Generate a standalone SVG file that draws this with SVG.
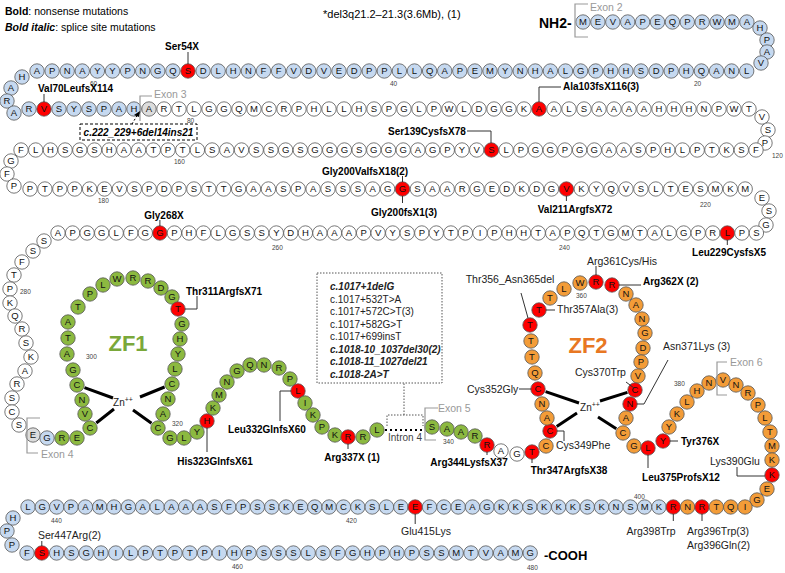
<svg xmlns="http://www.w3.org/2000/svg" width="785" height="573" viewBox="0 0 785 573">
<style>
circle{stroke:#555;stroke-width:0.8}
.b circle{fill:#c6d9f0}.w circle{fill:#fff}.g circle{fill:#8cb940}.o circle{fill:#f39c38}
circle.r{fill:#f00}circle.y{fill:#dcdcdc}circle.bl{fill:#c6d9f0}circle.gr{fill:#8cb940}circle.wh{fill:#fff}circle.or{fill:#f39c38}
text{font-family:"Liberation Sans",Arial,sans-serif}
.aa{font-size:9.5px;text-anchor:middle;fill:#111}
.lb{font-size:10px;font-weight:bold}
.lr{font-size:10.5px;fill:#222}
.num{font-size:6.5px;fill:#444}
.ex{font-size:10.5px;fill:#999}
.ln{stroke:#333;stroke-width:1;fill:none}
.zn{stroke:#000;stroke-width:3}
.br{stroke:#999;stroke-width:1.2;fill:none}
</style>
<g id="legend">
<text x="5" y="15" style="font-size:10.5px"><tspan font-weight="bold">Bold</tspan>: nonsense mutations</text>
<text x="5" y="31" style="font-size:10.5px"><tspan font-weight="bold" font-style="italic">Bold italic</tspan>: splice site mutations</text>
<text x="323" y="18" style="font-size:11px">*del3q21.2–21.3(3.6Mb), (1)</text>
</g>
<g id="row0" class="b">
<text x="539" y="28" style="font-size:14px;font-weight:bold">NH2-</text>
<circle cx="583" cy="22" r="7.2"/><circle cx="597.9" cy="22" r="7.2"/><circle cx="612.8" cy="22" r="7.2"/><circle cx="627.7" cy="22" r="7.2"/><circle cx="642.6" cy="22" r="7.2"/><circle cx="657.5" cy="22" r="7.2"/><circle cx="672.4" cy="22" r="7.2"/><circle cx="687.3" cy="22" r="7.2"/><circle cx="702.2" cy="22" r="7.2"/><circle cx="717.1" cy="22" r="7.2"/><circle cx="732" cy="22" r="7.2"/><circle cx="746.9" cy="22" r="7.2"/>
<circle cx="760" cy="28" r="7.2"/><circle cx="767" cy="40" r="7.2"/><circle cx="767" cy="52" r="7.2"/><circle cx="761" cy="63" r="7.2"/>
<text class="aa" x="583 597.9 612.8 627.7 642.6 657.5 672.4 687.3 702.2 717.1 732 746.9" y="25.4">MEVAPEQPRWMA</text>
<text class="aa" x="760 767 767 761" y="31.4 43.4 55.4 66.4">HPAV</text>
</g>
<g id="row1" class="b">
<circle cx="37" cy="71" r="7.2"/><circle cx="52.1" cy="71" r="7.2"/><circle cx="67.2" cy="71" r="7.2"/><circle cx="82.3" cy="71" r="7.2"/><circle cx="97.4" cy="71" r="7.2"/><circle cx="112.5" cy="71" r="7.2"/><circle cx="127.6" cy="71" r="7.2"/><circle cx="142.7" cy="71" r="7.2"/><circle cx="157.8" cy="71" r="7.2"/><circle cx="172.9" cy="71" r="7.2"/><circle class="r" cx="188" cy="71" r="7.2"/><circle cx="203.1" cy="71" r="7.2"/><circle cx="218.2" cy="71" r="7.2"/><circle cx="233.3" cy="71" r="7.2"/><circle cx="248.4" cy="71" r="7.2"/><circle cx="263.5" cy="71" r="7.2"/><circle cx="278.6" cy="71" r="7.2"/><circle cx="293.7" cy="71" r="7.2"/><circle cx="308.8" cy="71" r="7.2"/><circle cx="323.9" cy="71" r="7.2"/><circle cx="339" cy="71" r="7.2"/><circle cx="354.1" cy="71" r="7.2"/><circle cx="369.2" cy="71" r="7.2"/><circle cx="384.3" cy="71" r="7.2"/><circle cx="399.4" cy="71" r="7.2"/><circle cx="414.5" cy="71" r="7.2"/><circle cx="429.6" cy="71" r="7.2"/><circle cx="444.7" cy="71" r="7.2"/><circle cx="459.8" cy="71" r="7.2"/><circle cx="474.9" cy="71" r="7.2"/><circle cx="490" cy="71" r="7.2"/><circle cx="505.1" cy="71" r="7.2"/><circle cx="520.2" cy="71" r="7.2"/><circle cx="535.3" cy="71" r="7.2"/><circle cx="550.4" cy="71" r="7.2"/><circle cx="565.5" cy="71" r="7.2"/><circle cx="580.6" cy="71" r="7.2"/><circle cx="595.7" cy="71" r="7.2"/><circle cx="610.8" cy="71" r="7.2"/><circle cx="625.9" cy="71" r="7.2"/><circle cx="641" cy="71" r="7.2"/><circle cx="656.1" cy="71" r="7.2"/><circle cx="671.2" cy="71" r="7.2"/><circle cx="686.3" cy="71" r="7.2"/><circle cx="701.4" cy="71" r="7.2"/><circle cx="716.5" cy="71" r="7.2"/><circle cx="731.6" cy="71" r="7.2"/><circle cx="746.7" cy="71" r="7.2"/>
<circle cx="22" cy="77" r="7.2"/><circle cx="11" cy="88" r="7.2"/><circle cx="7" cy="101" r="7.2"/><circle cx="14" cy="113" r="7.2"/>
<text class="aa" x="37 52.1 67.2 82.3 97.4 112.5 127.6 142.7 157.8 172.9 188 203.1 218.2 233.3 248.4 263.5 278.6 293.7 308.8 323.9 339 354.1 369.2 384.3 399.4 414.5 429.6 444.7 459.8 474.9 490 505.1 520.2 535.3 550.4 565.5 580.6 595.7 610.8 625.9 641 656.1 671.2 686.3 701.4 716.5 731.6 746.7" y="74.4">APNAYYPNGQSDLHNFFVDVEDPPLLQAPEMYNHALGPHHSDPHQANL</text>
<text class="aa" x="22 11 7 14" y="80.4 91.4 104.4 116.4">HARA</text>
<text class="num" x="90" y="86">60</text><text class="num" x="390" y="86">40</text><text class="num" x="694" y="86">20</text>
</g>
<g id="row2" class="w">
<circle class="bl" cx="29" cy="109" r="7.2"/><circle class="r" cx="44" cy="109" r="7.2"/><circle class="bl" cx="59" cy="109" r="7.2"/><circle class="bl" cx="74" cy="109" r="7.2"/><circle class="bl" cx="89" cy="109" r="7.2"/><circle class="bl" cx="104" cy="109" r="7.2"/><circle class="bl" cx="119" cy="109" r="7.2"/><circle class="bl" cx="134" cy="109" r="7.2"/><circle class="y" cx="149" cy="109" r="7.2"/><circle cx="164" cy="109" r="7.2"/><circle cx="179" cy="109" r="7.2"/><circle cx="194" cy="109" r="7.2"/><circle cx="209" cy="109" r="7.2"/><circle cx="224" cy="109" r="7.2"/><circle cx="239" cy="109" r="7.2"/><circle cx="254" cy="109" r="7.2"/><circle cx="269" cy="109" r="7.2"/><circle cx="284" cy="109" r="7.2"/><circle cx="299" cy="109" r="7.2"/><circle cx="314" cy="109" r="7.2"/><circle cx="329" cy="109" r="7.2"/><circle cx="344" cy="109" r="7.2"/><circle cx="359" cy="109" r="7.2"/><circle cx="374" cy="109" r="7.2"/><circle cx="389" cy="109" r="7.2"/><circle cx="404" cy="109" r="7.2"/><circle cx="419" cy="109" r="7.2"/><circle cx="434" cy="109" r="7.2"/><circle cx="449" cy="109" r="7.2"/><circle cx="464" cy="109" r="7.2"/><circle cx="479" cy="109" r="7.2"/><circle cx="494" cy="109" r="7.2"/><circle cx="509" cy="109" r="7.2"/><circle cx="524" cy="109" r="7.2"/><circle class="r" cx="539" cy="109" r="7.2"/><circle cx="554" cy="109" r="7.2"/><circle cx="569" cy="109" r="7.2"/><circle cx="584" cy="109" r="7.2"/><circle cx="599" cy="109" r="7.2"/><circle cx="614" cy="109" r="7.2"/><circle cx="629" cy="109" r="7.2"/><circle cx="644" cy="109" r="7.2"/><circle cx="659" cy="109" r="7.2"/><circle cx="674" cy="109" r="7.2"/><circle cx="689" cy="109" r="7.2"/><circle cx="704" cy="109" r="7.2"/><circle cx="719" cy="109" r="7.2"/><circle cx="734" cy="109" r="7.2"/><circle cx="749" cy="109" r="7.2"/>
<circle cx="762" cy="117" r="7.2"/><circle cx="768" cy="130" r="7.2"/><circle cx="765" cy="143" r="7.2"/>
<text class="aa" x="29 44 59 74 89 104 119 134 149 164 179 194 209 224 239 254 269 284 299 314 329 344 359 374 389 404 419 434 449 464 479 494 509 524 539 554 569 584 599 614 629 644 659 674 689 704 719 734 749" y="112.4">RVSYSPAHARTLGGQMCRPHLLHSPGLPWLDGGKAALSAAAAHHHNPWT</text>
<text class="aa" x="762 768 765" y="120.4 133.4 146.4">VSP</text>
<text class="num" x="187" y="123">80</text><text class="num" x="772" y="158">120</text>
</g>
<g id="row3" class="w">
<circle cx="21" cy="150" r="7.2"/><circle cx="35.7" cy="150" r="7.2"/><circle cx="50.4" cy="150" r="7.2"/><circle cx="65.1" cy="150" r="7.2"/><circle cx="79.8" cy="150" r="7.2"/><circle cx="94.5" cy="150" r="7.2"/><circle cx="109.2" cy="150" r="7.2"/><circle cx="123.9" cy="150" r="7.2"/><circle cx="138.6" cy="150" r="7.2"/><circle cx="153.3" cy="150" r="7.2"/><circle cx="168" cy="150" r="7.2"/><circle cx="182.7" cy="150" r="7.2"/><circle cx="197.4" cy="150" r="7.2"/><circle cx="212.1" cy="150" r="7.2"/><circle cx="226.8" cy="150" r="7.2"/><circle cx="241.5" cy="150" r="7.2"/><circle cx="256.2" cy="150" r="7.2"/><circle cx="270.9" cy="150" r="7.2"/><circle cx="285.6" cy="150" r="7.2"/><circle cx="300.3" cy="150" r="7.2"/><circle cx="315" cy="150" r="7.2"/><circle cx="329.7" cy="150" r="7.2"/><circle cx="344.4" cy="150" r="7.2"/><circle cx="359.1" cy="150" r="7.2"/><circle cx="373.8" cy="150" r="7.2"/><circle cx="388.5" cy="150" r="7.2"/><circle cx="403.2" cy="150" r="7.2"/><circle cx="417.9" cy="150" r="7.2"/><circle cx="432.6" cy="150" r="7.2"/><circle cx="447.3" cy="150" r="7.2"/><circle cx="462" cy="150" r="7.2"/><circle cx="476.7" cy="150" r="7.2"/><circle class="r" cx="491.4" cy="150" r="7.2"/><circle cx="506.1" cy="150" r="7.2"/><circle cx="520.8" cy="150" r="7.2"/><circle cx="535.5" cy="150" r="7.2"/><circle cx="550.2" cy="150" r="7.2"/><circle cx="564.9" cy="150" r="7.2"/><circle cx="579.6" cy="150" r="7.2"/><circle cx="594.3" cy="150" r="7.2"/><circle cx="609" cy="150" r="7.2"/><circle cx="623.7" cy="150" r="7.2"/><circle cx="638.4" cy="150" r="7.2"/><circle cx="653.1" cy="150" r="7.2"/><circle cx="667.8" cy="150" r="7.2"/><circle cx="682.5" cy="150" r="7.2"/><circle cx="697.2" cy="150" r="7.2"/><circle cx="711.9" cy="150" r="7.2"/><circle cx="726.6" cy="150" r="7.2"/><circle cx="741.3" cy="150" r="7.2"/><circle cx="756" cy="150" r="7.2"/>
<circle cx="11" cy="161" r="7.2"/><circle cx="7" cy="174" r="7.2"/><circle cx="14" cy="186" r="7.2"/>
<text class="aa" x="21 35.7 50.4 65.1 79.8 94.5 109.2 123.9 138.6 153.3 168 182.7 197.4 212.1 226.8 241.5 256.2 270.9 285.6 300.3 315 329.7 344.4 359.1 373.8 388.5 403.2 417.9 432.6 447.3 462 476.7 491.4 506.1 520.8 535.5 550.2 564.9 579.6 594.3 609 623.7 638.4 653.1 667.8 682.5 697.2 711.9 726.6 741.3 756" y="153.4">FLHSGSHAATPTLSAVSSGSGGGSGGGAGPYVSLPGGPGGAASPHLPTKSF</text>
<text class="aa" x="11 7 14" y="164.4 177.4 189.4">GFP</text>
<text class="num" x="174" y="164">160</text>
</g>
<g id="row4" class="w">
<circle cx="30" cy="189" r="7.2"/><circle cx="44.9" cy="189" r="7.2"/><circle cx="59.8" cy="189" r="7.2"/><circle cx="74.7" cy="189" r="7.2"/><circle cx="89.6" cy="189" r="7.2"/><circle cx="104.5" cy="189" r="7.2"/><circle cx="119.4" cy="189" r="7.2"/><circle cx="134.3" cy="189" r="7.2"/><circle cx="149.2" cy="189" r="7.2"/><circle cx="164.1" cy="189" r="7.2"/><circle cx="179" cy="189" r="7.2"/><circle cx="193.9" cy="189" r="7.2"/><circle cx="208.8" cy="189" r="7.2"/><circle cx="223.7" cy="189" r="7.2"/><circle cx="238.6" cy="189" r="7.2"/><circle cx="253.5" cy="189" r="7.2"/><circle cx="268.4" cy="189" r="7.2"/><circle cx="283.3" cy="189" r="7.2"/><circle cx="298.2" cy="189" r="7.2"/><circle cx="313.1" cy="189" r="7.2"/><circle cx="328" cy="189" r="7.2"/><circle cx="342.9" cy="189" r="7.2"/><circle cx="357.8" cy="189" r="7.2"/><circle cx="372.7" cy="189" r="7.2"/><circle cx="387.6" cy="189" r="7.2"/><circle class="r" cx="402.5" cy="189" r="7.2"/><circle cx="417.4" cy="189" r="7.2"/><circle cx="432.3" cy="189" r="7.2"/><circle cx="447.2" cy="189" r="7.2"/><circle cx="462.1" cy="189" r="7.2"/><circle cx="477" cy="189" r="7.2"/><circle cx="491.9" cy="189" r="7.2"/><circle cx="506.8" cy="189" r="7.2"/><circle cx="521.7" cy="189" r="7.2"/><circle cx="536.6" cy="189" r="7.2"/><circle cx="551.5" cy="189" r="7.2"/><circle class="r" cx="566.4" cy="189" r="7.2"/><circle cx="581.3" cy="189" r="7.2"/><circle cx="596.2" cy="189" r="7.2"/><circle cx="611.1" cy="189" r="7.2"/><circle cx="626" cy="189" r="7.2"/><circle cx="640.9" cy="189" r="7.2"/><circle cx="655.8" cy="189" r="7.2"/><circle cx="670.7" cy="189" r="7.2"/><circle cx="685.6" cy="189" r="7.2"/><circle cx="700.5" cy="189" r="7.2"/><circle cx="715.4" cy="189" r="7.2"/><circle cx="730.3" cy="189" r="7.2"/><circle cx="745.2" cy="189" r="7.2"/>
<circle cx="762" cy="198" r="7.2"/><circle cx="769" cy="211" r="7.2"/><circle cx="766" cy="225" r="7.2"/>
<text class="aa" x="30 44.9 59.8 74.7 89.6 104.5 119.4 134.3 149.2 164.1 179 193.9 208.8 223.7 238.6 253.5 268.4 283.3 298.2 313.1 328 342.9 357.8 372.7 387.6 402.5 417.4 432.3 447.2 462.1 477 491.9 506.8 521.7 536.6 551.5 566.4 581.3 596.2 611.1 626 640.9 655.8 670.7 685.6 700.5 715.4 730.3 745.2" y="192.4">PTPPKEVSPDPSTTGAASPASSSAGGSAARGEDKDGVKYQVSLTESMKM</text>
<text class="aa" x="762 769 766" y="201.4 214.4 228.4">ESG</text>
<text class="num" x="98" y="203">180</text><text class="num" x="700" y="207">220</text>
</g>
<g id="row5" class="w">
<circle cx="58" cy="233" r="7.2"/><circle cx="72.6" cy="233" r="7.2"/><circle cx="87.1" cy="233" r="7.2"/><circle cx="101.7" cy="233" r="7.2"/><circle cx="116.2" cy="233" r="7.2"/><circle cx="130.8" cy="233" r="7.2"/><circle cx="145.3" cy="233" r="7.2"/><circle class="r" cx="159.9" cy="233" r="7.2"/><circle cx="174.4" cy="233" r="7.2"/><circle cx="189" cy="233" r="7.2"/><circle cx="203.5" cy="233" r="7.2"/><circle cx="218.1" cy="233" r="7.2"/><circle cx="232.6" cy="233" r="7.2"/><circle cx="247.2" cy="233" r="7.2"/><circle cx="261.7" cy="233" r="7.2"/><circle cx="276.3" cy="233" r="7.2"/><circle cx="290.8" cy="233" r="7.2"/><circle cx="305.4" cy="233" r="7.2"/><circle cx="319.9" cy="233" r="7.2"/><circle cx="334.5" cy="233" r="7.2"/><circle cx="349" cy="233" r="7.2"/><circle cx="363.6" cy="233" r="7.2"/><circle cx="378.1" cy="233" r="7.2"/><circle cx="392.7" cy="233" r="7.2"/><circle cx="407.2" cy="233" r="7.2"/><circle cx="421.8" cy="233" r="7.2"/><circle cx="436.3" cy="233" r="7.2"/><circle cx="450.9" cy="233" r="7.2"/><circle cx="465.4" cy="233" r="7.2"/><circle cx="480" cy="233" r="7.2"/><circle cx="494.5" cy="233" r="7.2"/><circle cx="509.1" cy="233" r="7.2"/><circle cx="523.6" cy="233" r="7.2"/><circle cx="538.2" cy="233" r="7.2"/><circle cx="552.7" cy="233" r="7.2"/><circle cx="567.3" cy="233" r="7.2"/><circle cx="581.8" cy="233" r="7.2"/><circle cx="596.4" cy="233" r="7.2"/><circle cx="610.9" cy="233" r="7.2"/><circle cx="625.5" cy="233" r="7.2"/><circle cx="640" cy="233" r="7.2"/><circle cx="654.6" cy="233" r="7.2"/><circle cx="669.1" cy="233" r="7.2"/><circle cx="683.7" cy="233" r="7.2"/><circle cx="698.2" cy="233" r="7.2"/><circle cx="712.8" cy="233" r="7.2"/><circle class="r" cx="727.3" cy="233" r="7.2"/><circle cx="741.9" cy="233" r="7.2"/><circle cx="756.4" cy="233" r="7.2"/>
<text class="aa" x="58 72.6 87.1 101.7 116.2 130.8 145.3 159.9 174.4 189 203.5 218.1 232.6 247.2 261.7 276.3 290.8 305.4 319.9 334.5 349 363.6 378.1 392.7 407.2 421.8 436.3 450.9 465.4 480 494.5 509.1 523.6 538.2 552.7 567.3 581.8 596.4 610.9 625.5 640 654.6 669.1 683.7 698.2 712.8 727.3 741.9 756.4" y="236.4">APGGLFGGPHFLGSSYDHAAAPVYSPYTPIPHHTAPQTGMTALGPRLPS</text>
<text class="num" x="272" y="250">260</text><text class="num" x="559" y="250">240</text>
</g>
<g id="leftcol" class="w">
<circle cx="44" cy="241" r="7.2"/><circle cx="33" cy="251" r="7.2"/><circle cx="22" cy="262" r="7.2"/><circle cx="14" cy="275" r="7.2"/><circle cx="10" cy="289" r="7.2"/><circle cx="10" cy="303" r="7.2"/><circle cx="15" cy="316" r="7.2"/><circle cx="22" cy="329" r="7.2"/><circle cx="26" cy="343" r="7.2"/><circle cx="31" cy="357" r="7.2"/><circle cx="25" cy="371" r="7.2"/><circle cx="17" cy="384" r="7.2"/><circle cx="12" cy="398" r="7.2"/><circle cx="12" cy="412" r="7.2"/><circle cx="19" cy="425" r="7.2"/><circle class="y" cx="33" cy="435" r="7.2"/><circle class="bl" cx="47" cy="438" r="7.2"/>
<text class="aa" x="44 33 22 14 10 10 15 22 26 31 25 17 12 12 19 33 47" y="244.4 254.4 265.4 278.4 292.4 306.4 319.4 332.4 346.4 360.4 374.4 387.4 401.4 415.4 428.4 438.4 441.4">SSFTPKQRSKARSCSEG</text>
<text class="num" x="20" y="294">280</text>
</g>
<g id="ZF1" class="g">
<circle cx="62" cy="438" r="7.2"/><circle cx="77" cy="438" r="7.2"/><circle cx="90" cy="428" r="7.2"/><circle cx="85" cy="414" r="7.2"/><circle cx="82" cy="400" r="7.2"/><circle cx="77" cy="385" r="7.2"/><circle cx="73" cy="370" r="7.2"/><circle cx="67" cy="354" r="7.2"/><circle cx="68" cy="338" r="7.2"/><circle cx="68" cy="322" r="7.2"/><circle cx="78" cy="307" r="7.2"/><circle cx="90" cy="294" r="7.2"/><circle cx="103" cy="285" r="7.2"/><circle cx="117" cy="279" r="7.2"/><circle cx="133" cy="278" r="7.2"/><circle cx="148" cy="281" r="7.2"/><circle cx="161" cy="288" r="7.2"/><circle cx="172" cy="297" r="7.2"/><circle class="r" cx="178" cy="309" r="7.2"/><circle cx="182" cy="324" r="7.2"/><circle cx="180" cy="339" r="7.2"/><circle cx="178" cy="354" r="7.2"/><circle cx="175" cy="369" r="7.2"/><circle cx="172" cy="384" r="7.2"/><circle cx="168" cy="399" r="7.2"/><circle cx="163" cy="414" r="7.2"/><circle cx="158" cy="428" r="7.2"/><circle cx="170" cy="438" r="7.2"/><circle cx="184" cy="438" r="7.2"/><circle cx="197" cy="432" r="7.2"/><circle class="r" cx="207" cy="421" r="7.2"/><circle cx="213" cy="408" r="7.2"/><circle cx="219" cy="395" r="7.2"/><circle cx="227" cy="382" r="7.2"/><circle cx="237" cy="371" r="7.2"/><circle cx="250" cy="365" r="7.2"/><circle cx="264" cy="365" r="7.2"/><circle cx="279" cy="368" r="7.2"/><circle cx="290" cy="379" r="7.2"/><circle class="r" cx="298" cy="391" r="7.2"/><circle cx="305" cy="403" r="7.2"/><circle cx="313" cy="415" r="7.2"/><circle cx="322" cy="427" r="7.2"/><circle cx="335" cy="435" r="7.2"/><circle class="r" cx="348" cy="437" r="7.2"/><circle cx="363" cy="437" r="7.2"/><circle cx="377" cy="430" r="7.2"/>
<text class="aa" x="62 77 90 85 82 77 73 67 68 68 78 90 103 117 133 148 161 172 178 182 180 178 175 172 168 163 158 170 184 197 207 213 219 227 237 250 264 279 290 298 305 313 322 335 348 363 377" y="441.4 441.4 431.4 417.4 403.4 388.4 373.4 357.4 341.4 325.4 310.4 297.4 288.4 282.4 281.4 284.4 291.4 300.4 312.4 327.4 342.4 357.4 372.4 387.4 402.4 417.4 431.4 441.4 441.4 435.4 424.4 411.4 398.4 385.4 374.4 368.4 368.4 371.4 382.4 394.4 406.4 418.4 430.4 438.4 440.4 440.4 433.4">RECVNCGATATPLWRRDGTGHYLCNACGLYHKMNGQNRPLIKPKRRL</text>
<text x="128" y="351" style="font-size:22px;font-weight:bold;fill:#7aa83a;text-anchor:middle">ZF1</text>
<text x="123" y="406" style="font-size:10px;text-anchor:middle;fill:#222">Zn<tspan dy="-4" font-size="7">++</tspan></text>
<text class="num" x="86" y="359">300</text><text class="num" x="172" y="426">320</text>
</g>
<g id="exon5" class="g">
<circle cx="432" cy="427" r="7.2"/><circle cx="447" cy="429" r="7.2"/><circle cx="461" cy="432" r="7.2"/><circle cx="475" cy="436" r="7.2"/><circle class="r" cx="487" cy="445" r="7.2"/><circle class="wh" cx="501" cy="451" r="7.2"/><circle class="wh" cx="517" cy="454" r="7.2"/>
<text class="aa" x="432 447 461 475 487 501 517" y="430.4 432.4 435.4 439.4 448.4 454.4 457.4">SAARRAG</text>
<text class="num" x="443" y="444">340</text>
</g>
<g id="ZF2" class="o">
<circle class="r" cx="532" cy="452" r="7.2"/><circle cx="546" cy="446" r="7.2"/><circle class="r" cx="550" cy="431" r="7.2"/><circle cx="547" cy="418" r="7.2"/><circle cx="542" cy="404" r="7.2"/><circle class="r" cx="538" cy="389" r="7.2"/><circle cx="535" cy="373" r="7.2"/><circle cx="532" cy="357" r="7.2"/><circle cx="531" cy="341" r="7.2"/><circle class="r" cx="530" cy="325" r="7.2"/><circle class="r" cx="539" cy="310" r="7.2"/><circle cx="550" cy="298" r="7.2"/><circle cx="564" cy="289" r="7.2"/><circle cx="580" cy="283" r="7.2"/><circle class="r" cx="596" cy="282" r="7.2"/><circle class="r" cx="612" cy="285" r="7.2"/><circle cx="626" cy="294" r="7.2"/><circle cx="636" cy="305" r="7.2"/><circle cx="642" cy="319" r="7.2"/><circle cx="645" cy="333" r="7.2"/><circle cx="643" cy="348" r="7.2"/><circle cx="641" cy="362" r="7.2"/><circle cx="638" cy="376" r="7.2"/><circle class="r" cx="635" cy="390" r="7.2"/><circle class="r" cx="630" cy="404" r="7.2"/><circle cx="626" cy="418" r="7.2"/><circle cx="623" cy="433" r="7.2"/><circle cx="634" cy="446" r="7.2"/><circle class="r" cx="648" cy="448" r="7.2"/><circle class="r" cx="663" cy="441" r="7.2"/><circle cx="669" cy="427" r="7.2"/><circle cx="677" cy="414" r="7.2"/><circle cx="687" cy="402" r="7.2"/><circle cx="697" cy="391" r="7.2"/><circle cx="709" cy="383" r="7.2"/><circle cx="723" cy="380" r="7.2"/><circle cx="736" cy="385" r="7.2"/><circle cx="748" cy="393" r="7.2"/><circle cx="758" cy="405" r="7.2"/><circle cx="765" cy="418" r="7.2"/><circle cx="770" cy="432" r="7.2"/><circle cx="772" cy="446" r="7.2"/><circle cx="772" cy="460" r="7.2"/><circle class="r" cx="772" cy="475" r="7.2"/><circle cx="767" cy="489" r="7.2"/><circle cx="757" cy="500" r="7.2"/>
<text class="aa" x="532 546 550 547 542 538 535 532 531 530 539 550 564 580 596 612 626 636 642 645 643 641 638 635 630 626 623 634 648 663 669 677 687 697 709 723 736 748 758 765 770 772 772 772 767 757" y="455.4 449.4 434.4 421.4 407.4 392.4 376.4 360.4 344.4 328.4 313.4 301.4 292.4 286.4 285.4 288.4 297.4 308.4 322.4 336.4 351.4 365.4 379.4 393.4 407.4 421.4 436.4 449.4 451.4 444.4 430.4 417.4 405.4 394.4 386.4 383.4 388.4 396.4 408.4 421.4 435.4 449.4 463.4 478.4 492.4 503.4">TCCANCQTTTTTLWRRNANGDPVCNACGLYYKLHNVNRPLTMKKEG</text>
<text x="588" y="353" style="font-size:22px;font-weight:bold;fill:#e87722;text-anchor:middle">ZF2</text>
<text x="590" y="411" style="font-size:10px;text-anchor:middle;fill:#222">Zn<tspan dy="-4" font-size="7">++</tspan></text>
<text class="num" x="576" y="298">360</text><text class="num" x="674" y="386">380</text>
</g>
<g id="row6" class="b">
<circle cx="28" cy="507" r="7.2"/><circle cx="42.3" cy="507" r="7.2"/><circle cx="56.7" cy="507" r="7.2"/><circle cx="71" cy="507" r="7.2"/><circle cx="85.4" cy="507" r="7.2"/><circle cx="99.7" cy="507" r="7.2"/><circle cx="114" cy="507" r="7.2"/><circle cx="128.4" cy="507" r="7.2"/><circle cx="142.7" cy="507" r="7.2"/><circle cx="157.1" cy="507" r="7.2"/><circle cx="171.4" cy="507" r="7.2"/><circle cx="185.7" cy="507" r="7.2"/><circle cx="200.1" cy="507" r="7.2"/><circle cx="214.4" cy="507" r="7.2"/><circle cx="228.8" cy="507" r="7.2"/><circle cx="243.1" cy="507" r="7.2"/><circle cx="257.4" cy="507" r="7.2"/><circle cx="271.8" cy="507" r="7.2"/><circle cx="286.1" cy="507" r="7.2"/><circle cx="300.5" cy="507" r="7.2"/><circle cx="314.8" cy="507" r="7.2"/><circle cx="329.1" cy="507" r="7.2"/><circle cx="343.5" cy="507" r="7.2"/><circle cx="357.8" cy="507" r="7.2"/><circle cx="372.2" cy="507" r="7.2"/><circle cx="386.5" cy="507" r="7.2"/><circle cx="400.8" cy="507" r="7.2"/><circle class="r" cx="415.2" cy="507" r="7.2"/><circle cx="429.5" cy="507" r="7.2"/><circle cx="443.9" cy="507" r="7.2"/><circle cx="458.2" cy="507" r="7.2"/><circle cx="472.5" cy="507" r="7.2"/><circle cx="486.9" cy="507" r="7.2"/><circle cx="501.2" cy="507" r="7.2"/><circle cx="515.6" cy="507" r="7.2"/><circle cx="529.9" cy="507" r="7.2"/><circle cx="544.2" cy="507" r="7.2"/><circle cx="558.6" cy="507" r="7.2"/><circle cx="572.9" cy="507" r="7.2"/><circle cx="587.3" cy="507" r="7.2"/><circle cx="601.6" cy="507" r="7.2"/><circle cx="615.9" cy="507" r="7.2"/><circle cx="630.3" cy="507" r="7.2"/><circle cx="644.6" cy="507" r="7.2"/><circle cx="659" cy="507" r="7.2"/><circle class="r" cx="673.3" cy="507" r="7.2"/><circle class="or" cx="687.6" cy="507" r="7.2"/><circle class="r" cx="702" cy="507" r="7.2"/><circle class="or" cx="716.3" cy="507" r="7.2"/><circle class="or" cx="730.7" cy="507" r="7.2"/><circle class="or" cx="745" cy="507" r="7.2"/>
<circle cx="13" cy="518" r="7.2"/><circle cx="7" cy="531" r="7.2"/><circle cx="12" cy="545" r="7.2"/>
<text class="aa" x="28 42.3 56.7 71 85.4 99.7 114 128.4 142.7 157.1 171.4 185.7 200.1 214.4 228.8 243.1 257.4 271.8 286.1 300.5 314.8 329.1 343.5 357.8 372.2 386.5 400.8 415.2 429.5 443.9 458.2 472.5 486.9 501.2 515.6 529.9 544.2 558.6 572.9 587.3 601.6 615.9 630.3 644.6 659 673.3 687.6 702 716.3 730.7 745" y="510.4">LGVPAMHGALAAASFPSSKEQMCKSLEEFCEAGKKSKKKSKNSMKRNRTQI</text>
<text class="aa" x="13 7 12" y="521.4 534.4 548.4">HPP</text>
<text class="num" x="51" y="523">440</text><text class="num" x="346" y="523">420</text><text class="num" x="634" y="499">400</text>
</g>
<g id="row7" class="b">
<circle cx="27" cy="553" r="7.2"/><circle class="r" cx="41.8" cy="553" r="7.2"/><circle cx="56.6" cy="553" r="7.2"/><circle cx="71.4" cy="553" r="7.2"/><circle cx="86.2" cy="553" r="7.2"/><circle cx="101" cy="553" r="7.2"/><circle cx="115.8" cy="553" r="7.2"/><circle cx="130.6" cy="553" r="7.2"/><circle cx="145.4" cy="553" r="7.2"/><circle cx="160.2" cy="553" r="7.2"/><circle cx="175" cy="553" r="7.2"/><circle cx="189.8" cy="553" r="7.2"/><circle cx="204.6" cy="553" r="7.2"/><circle cx="219.4" cy="553" r="7.2"/><circle cx="234.2" cy="553" r="7.2"/><circle cx="249" cy="553" r="7.2"/><circle cx="263.8" cy="553" r="7.2"/><circle cx="278.6" cy="553" r="7.2"/><circle cx="293.4" cy="553" r="7.2"/><circle cx="308.2" cy="553" r="7.2"/><circle cx="323" cy="553" r="7.2"/><circle cx="337.8" cy="553" r="7.2"/><circle cx="352.6" cy="553" r="7.2"/><circle cx="367.4" cy="553" r="7.2"/><circle cx="382.2" cy="553" r="7.2"/><circle cx="397" cy="553" r="7.2"/><circle cx="411.8" cy="553" r="7.2"/><circle cx="426.6" cy="553" r="7.2"/><circle cx="441.4" cy="553" r="7.2"/><circle cx="456.2" cy="553" r="7.2"/><circle cx="471" cy="553" r="7.2"/><circle cx="485.8" cy="553" r="7.2"/><circle cx="500.6" cy="553" r="7.2"/><circle cx="515.4" cy="553" r="7.2"/><circle cx="530.2" cy="553" r="7.2"/>
<text class="aa" x="27 41.8 56.6 71.4 86.2 101 115.8 130.6 145.4 160.2 175 189.8 204.6 219.4 234.2 249 263.8 278.6 293.4 308.2 323 337.8 352.6 367.4 382.2 397 411.8 426.6 441.4 456.2 471 485.8 500.6 515.4 530.2" y="556.4">FSHSGHILPTPTPIHPSSSLSFGHPHPSSMTVAMG</text>
<text x="544" y="560" style="font-size:13px;font-weight:bold">-COOH</text>
<text class="num" x="232" y="569">460</text><text class="num" x="527" y="570">480</text>
</g>
<g id="connectors">
<path class="br" d="M588 4H575V37H588"/><text class="ex" x="590" y="11">Exon 2</text>
<path class="br" d="M152 96H140V121"/><text class="ex" x="154" y="98">Exon 3</text>
<path class="br" d="M40 418H27V453H38"/><text class="ex" x="41" y="458">Exon 4</text>
<path class="br" d="M438 408H425V440H436"/><text class="ex" x="438" y="412">Exon 5</text>
<path class="br" d="M727 362H717V395H727"/><text class="ex" x="730" y="366">Exon 6</text>
<rect x="80" y="124" width="117" height="16" fill="#fff" stroke="#000" stroke-dasharray="3,2"/>
<text x="138.5" y="136" style="font-size:10px;font-weight:bold;font-style:italic;text-anchor:middle">c.222_229+6del14ins21</text>
<path d="M132 124L138 114" stroke="#000" stroke-dasharray="2,2"/><path d="M140 111L134 115L139 117Z" fill="#000"/>
<path class="ln" d="M188 64V52M44 102V94M539 102V87H561M467 131H491V143M402.5 182V176M402.5 196V203M566.4 196V201M727.3 240V245M159.9 226V220M185 309H197V296M207 428V452M291 391H280V421M348 444V449M487 452V455M532 459V463M521 293L528 318M546 310H555M596 275V266M619 285H641M637 404H644L668 360M626 382L634 388M519 389H531M557 431H564V441M670 441H678M648 455V468M765 476H737V467M415.2 514V524M673.3 514V521M702 514V521M41.8 546V541"/>
<text class="lb" x="182" y="50" text-anchor="middle">Ser54X</text>
<text class="lb" x="38" y="92">Val70LeufsX114</text>
<text class="lb" x="563" y="90">Ala103fsX116(3)</text>
<text class="lb" x="388" y="135">Ser139CysfsX78</text>
<text class="lb" x="322" y="175">Gly200ValfsX18(2)</text>
<text class="lb" x="404" y="216" text-anchor="middle">Gly200fsX1(3)</text>
<text class="lb" x="575" y="213" text-anchor="middle">Val211ArgfsX72</text>
<text class="lb" x="729" y="256" text-anchor="middle">Leu229CysfsX5</text>
<text class="lb" x="164" y="219" text-anchor="middle">Gly268X</text>
<text class="lb" x="186" y="295">Thr311ArgfsX71</text>
<text class="lb" x="215" y="465" text-anchor="middle">His323GlnfsX61</text>
<text class="lb" x="267" y="433" text-anchor="middle">Leu332GlnfsX60</text>
<text class="lb" x="352" y="461" text-anchor="middle">Arg337X (1)</text>
<text class="lb" x="469" y="466" text-anchor="middle">Arg344LysfsX37</text>
<text class="lb" x="569" y="474" text-anchor="middle">Thr347ArgfsX38</text>
<text class="lb" x="681" y="481" text-anchor="middle">Leu375ProfsX12</text>
<text class="lb" x="681" y="445">Tyr376X</text>
<text class="lb" x="643" y="285">Arg362X (2)</text>
<text class="lr" x="510" y="283" text-anchor="middle">Thr356_Asn365del</text>
<text class="lr" x="557" y="313">Thr357Ala(3)</text>
<text class="lr" x="622" y="265" text-anchor="middle">Arg361Cys/His</text>
<text class="lr" x="663" y="350">Asn371Lys (3)</text>
<text class="lr" x="575" y="376">Cys370Trp</text>
<text class="lr" x="467" y="393">Cys352Gly</text>
<text class="lr" x="556" y="449">Cys349Phe</text>
<text class="lr" x="710" y="465">Lys390Glu</text>
<text class="lr" x="426" y="535" text-anchor="middle">Glu415Lys</text>
<text class="lr" x="651" y="535" text-anchor="middle">Arg398Trp</text>
<text class="lr" x="687" y="535">Arg396Trp(3)</text>
<text class="lr" x="687" y="549">Arg396Gln(2)</text>
<text class="lr" x="38" y="539">Ser447Arg(2)</text>
<path class="zn" d="M84.5 387.7L113 398M164.6 387L140 397M96.3 423L114 409M151.5 423.3L133 410M545.6 391.6L579 403M627.4 392.4L600 401M556.7 426.6L577 413M616.3 428.7L598 417"/>
<path d="M385 430H425" stroke="#000" stroke-width="2" stroke-dasharray="2,3"/>
<text x="405" y="441" style="font-size:10px;fill:#444;text-anchor:middle">Intron 4</text>
<path d="M387 426V415H423V426M404 415V383" stroke="#555" fill="none" stroke-dasharray="1.5,1.5"/>
<rect x="317" y="273" width="125" height="110" fill="#fff" stroke="#555" stroke-dasharray="1.5,1.5"/>
<g style="font-size:10px;fill:#222">
<text x="330" y="290" font-weight="bold" font-style="italic">c.1017+1delG</text>
<text x="330" y="302.5">c.1017+532T&gt;A</text>
<text x="330" y="315">c.1017+572C&gt;T(3)</text>
<text x="330" y="327.5">c.1017+582G&gt;T</text>
<text x="330" y="340">c.1017+699insT</text>
<text x="330" y="352.5" font-weight="bold" font-style="italic">c.1018-10_1037del30(2)</text>
<text x="330" y="365" font-weight="bold" font-style="italic">c.1018-11_1027del21</text>
<text x="330" y="377.5" font-weight="bold" font-style="italic">c.1018-2A&gt;T</text>
</g>
</g>
</svg>
